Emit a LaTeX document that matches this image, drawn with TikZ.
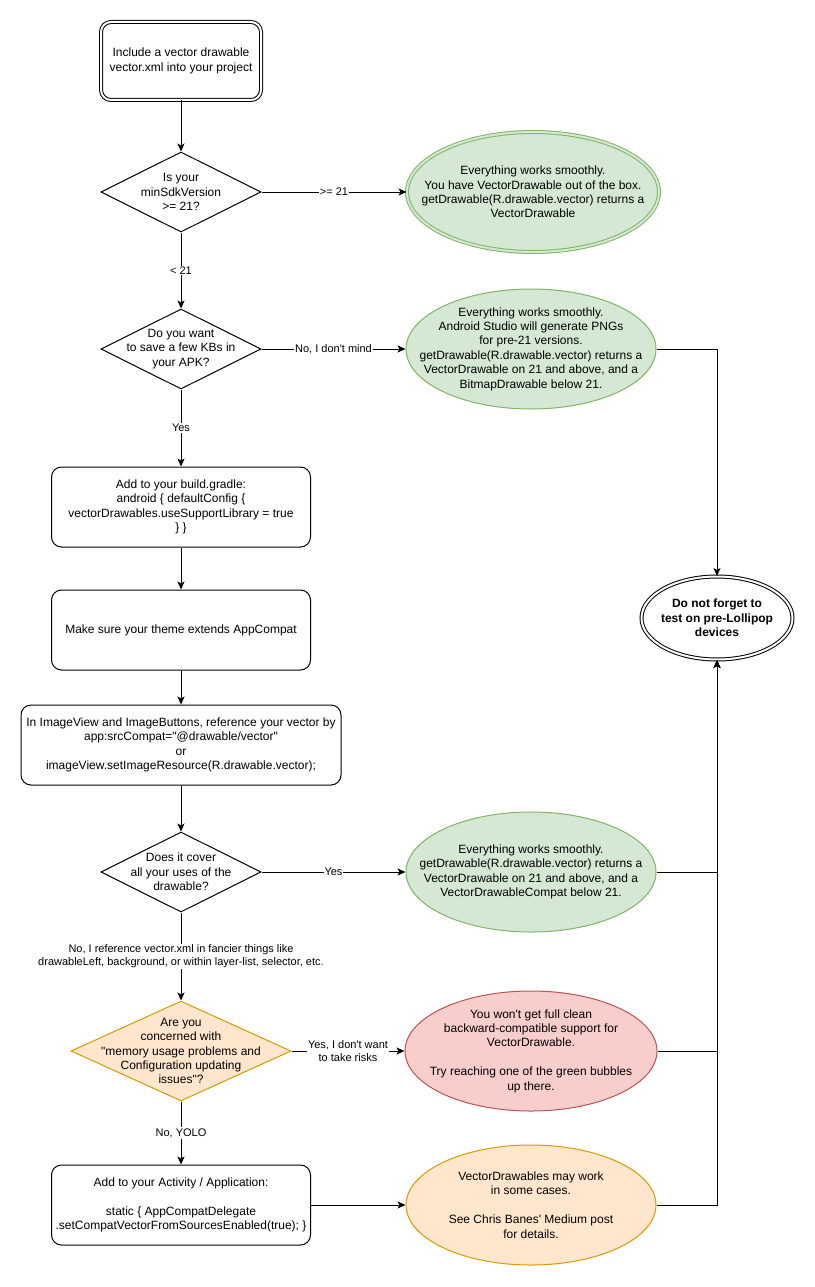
\documentclass[tikz,border=0pt]{standalone}
\usepackage{fontspec}
\newfontfamily\dfont{Liberation Sans}
\usetikzlibrary{shapes.geometric,arrows.meta}
\definecolor{vertfond}{HTML}{D5E8D4}
\definecolor{vertbord}{HTML}{82B366}
\definecolor{rougefond}{HTML}{F8CECC}
\definecolor{rougebord}{HTML}{B85450}
\definecolor{orangefond}{HTML}{FFE6CC}
\definecolor{orangebord}{HTML}{D79B00}
\tikzset{
  every node/.style={font=\dfont\fontsize{12}{14.4}\selectfont},
  boite/.style={draw, line width=1pt, rounded corners=10pt, minimum width=259pt, minimum height=80pt, align=center, inner sep=0pt, fill=white},
  losange/.style={diamond, draw, line width=1pt, minimum width=160pt, minimum height=80pt, inner sep=0pt, fill=white},
  bulle/.style={ellipse, draw=vertbord, fill=vertfond, line width=1pt, minimum width=250pt, minimum height=120pt, inner sep=0pt},
  texte/.style={align=center, inner sep=0pt},
  etiq/.style={fill=white, font=\dfont\fontsize{11}{13}\selectfont, inner sep=1pt, align=center},
  fleche/.style={line width=1pt, -{Stealth[length=8pt,width=7pt,inset=2pt]}},
}
\begin{document}
\begin{tikzpicture}[x=1pt,y=1pt]
\pgfmathsetmacro{\xun}{181}
\pgfmathsetmacro{\xdeux}{531}
\pgfmathsetmacro{\xtrois}{717}
\useasboundingbox (0,0) rectangle (814,-1287);
% colonne de gauche
\node[boite, double, double distance=2pt, minimum width=160pt, minimum height=78pt] (inclure) at (\xun,-61) {Include a vector drawable\\vector.xml into your project};
\node[losange, label={[texte]center:{Is your\\minSdkVersion\\>= 21?}}] (sdk) at (\xun,-192) {};
\node[losange, label={[texte]center:{Do you want\\to save a few KBs in\\your APK?}}] (kb) at (\xun,-349) {};
\node[boite] (gradle) at (\xun,-507) {Add to your build.gradle:\\android \{ defaultConfig \{\\vectorDrawables.useSupportLibrary = true\\\} \}};
\node[boite] (theme) at (\xun,-630) {Make sure your theme extends AppCompat};
\node[boite, minimum width=320pt] (imgview) at (\xun,-745) {In ImageView and ImageButtons, reference your vector by\\app:srcCompat="@drawable/vector"\\or\\imageView.setImageResource(R.drawable.vector);};
\node[losange, label={[texte]center:{Does it cover\\all your uses of the\\drawable?}}] (couvre) at (\xun,-872) {};
\node[losange, draw=orangebord, fill=orangefond, minimum width=220pt, minimum height=100pt, label={[texte]center:{Are you\\concerned with\\"memory usage problems and\\Configuration updating\\issues"?}}] (memoire) at (\xun,-1051) {};
\node[boite] (activite) at (\xun,-1205) {Add to your Activity / Application:\\[14.4pt]static \{ AppCompatDelegate\\.setCompatVectorFromSourcesEnabled(true); \}};
% bulles de droite
\node[bulle, double=vertfond, double distance=2pt, minimum width=252pt, label={[texte]center:{Everything works smoothly.\\You have VectorDrawable out of the box.\\getDrawable(R.drawable.vector) returns a\\VectorDrawable}}] (natif) at (533,-192) {};
\node[bulle, label={[texte]center:{Everything works smoothly.\\Android Studio will generate PNGs\\for pre-21 versions.\\getDrawable(R.drawable.vector) returns a\\VectorDrawable on 21 and above, and a\\BitmapDrawable below 21.}}] (pngs) at (\xdeux,-349) {};
\node[bulle, label={[texte]center:{Everything works smoothly.\\getDrawable(R.drawable.vector) returns a\\VectorDrawable on 21 and above, and a\\VectorDrawableCompat below 21.}}] (compat) at (\xdeux,-872) {};
\node[bulle, draw=rougebord, fill=rougefond, minimum width=252pt, label={[texte]center:{You won't get full clean\\backward-compatible support for\\VectorDrawable.\\[14.4pt]Try reaching one of the green bubbles\\up there.}}] (risque) at (\xdeux,-1051) {};
\node[bulle, draw=orangebord, fill=orangefond, label={[texte]center:{VectorDrawables may work\\in some cases.\\[14.4pt]See Chris Banes' Medium post\\for details.}}] (peutetre) at (\xdeux,-1205) {};
\node[ellipse, draw, line width=1pt, double, double distance=2pt, minimum width=151pt, minimum height=83pt, inner sep=0pt, label={[texte, font=\dfont\bfseries\fontsize{12}{14.4}\selectfont]center:{Do not forget to\\test on pre-Lollipop\\devices}}] (lollipop) at (\xtrois,-618) {};
% fleches
\draw[fleche] (inclure) -- (sdk);
\draw[fleche] (sdk) -- node[etiq]{>= 21} (natif);
\draw[fleche] (sdk) -- node[etiq]{< 21} (kb);
\draw[fleche] (kb) -- node[etiq]{No, I don't mind} (pngs);
\draw[fleche] (kb) -- node[etiq]{Yes} (gradle);
\draw[fleche] (gradle) -- (theme);
\draw[fleche] (theme) -- (imgview);
\draw[fleche] (imgview) -- (couvre);
\draw[fleche] (couvre) -- node[etiq]{Yes} (compat);
\draw[fleche] (couvre) -- node[etiq]{No, I reference vector.xml in fancier things like\\drawableLeft, background, or within layer-list, selector, etc.} (memoire);
\draw[fleche] (memoire) -- node[etiq]{Yes, I don't want\\to take risks} (risque);
\draw[fleche] (memoire) -- node[etiq]{No, YOLO} (activite);
\draw[fleche] (activite) -- (peutetre);
\draw[fleche] (pngs) -| (lollipop);
\draw[fleche] (compat) -| (lollipop);
\draw[fleche] (risque) -| (lollipop);
\draw[fleche] (peutetre) -| (lollipop);
\end{tikzpicture}
\end{document}
